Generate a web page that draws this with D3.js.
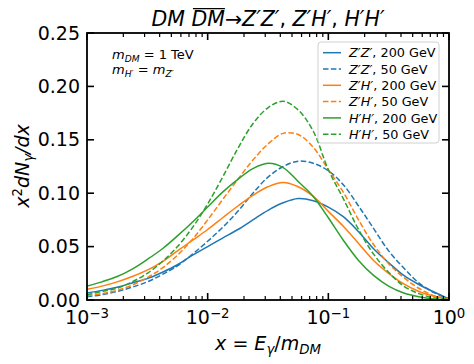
<!DOCTYPE html>
<html><head><meta charset="utf-8">
<script src="https://cdn.jsdelivr.net/npm/d3@7"></script>
<style>body{margin:0;background:#fff} svg{display:block} text{font-family:"DejaVu Sans",sans-serif;fill:#000}</style>
</head><body><svg id="c" width="474" height="364"></svg>
<script>
const xValues = [0.001, 0.00133, 0.00178, 0.00237, 0.00316, 0.00422, 0.00562, 0.0075, 0.01, 0.0133, 0.0178, 0.0237, 0.0316, 0.0422, 0.0562, 0.075, 0.1, 0.133, 0.178, 0.237, 0.316, 0.422, 0.562, 0.75, 1.0];
const zz200 = [0.0065,0.009,0.012,0.016,0.020,0.026,0.033,0.042,0.050,0.058,0.066,0.075,0.084,0.091,0.095,0.093,0.087,0.078,0.064,0.048,0.035,0.023,0.0145,0.0075,0.001];
const zz50  = [0.003,0.005,0.008,0.012,0.017,0.024,0.032,0.043,0.055,0.068,0.083,0.100,0.115,0.125,0.130,0.128,0.121,0.108,0.088,0.067,0.046,0.030,0.016,0.007,0.001];
const zh200 = [0.010,0.013,0.017,0.022,0.028,0.036,0.046,0.056,0.066,0.077,0.088,0.098,0.106,0.110,0.106,0.097,0.083,0.069,0.053,0.037,0.025,0.015,0.008,0.0035,0.001];
const zh50  = [0.004,0.006,0.009,0.014,0.021,0.030,0.042,0.057,0.075,0.094,0.113,0.131,0.146,0.156,0.155,0.143,0.122,0.101,0.075,0.052,0.034,0.021,0.011,0.004,0.001];
const hh200 = [0.013,0.017,0.022,0.029,0.038,0.048,0.060,0.073,0.087,0.101,0.113,0.123,0.128,0.124,0.111,0.097,0.077,0.056,0.037,0.023,0.013,0.0065,0.003,0.001,0.0003];
const hh50  = [0.005,0.008,0.011,0.017,0.025,0.036,0.050,0.068,0.090,0.115,0.142,0.165,0.180,0.186,0.178,0.158,0.122,0.095,0.066,0.043,0.026,0.013,0.006,0.002,0.0005];
const seriesNames = ["Z′Z′", "Z′Z′", "Z′H′", "Z′H′", "H′H′", "H′H′"];
const seriesMass = [", 200 GeV", ", 50 GeV", ", 200 GeV", ", 50 GeV", ", 200 GeV", ", 50 GeV"];
const seriesColors = ["#1f77b4","#1f77b4","#ff7f0e","#ff7f0e","#2ca02c","#2ca02c"];
const seriesDashed = [false,true,false,true,false,true];
const seriesValues = [zz200, zz50, zh200, zh50, hh200, hh50];
const xMajorTicks = [0.001, 0.01, 0.1, 1];
const xTickExp = ["−3","−2","−1","0"];
const yTicks = [0, 0.05, 0.10, 0.15, 0.20, 0.25];
const yTickLabels = ["0.00","0.05","0.10","0.15","0.20","0.25"];

const svg = d3.select("#c");
const L=87, R=449, T=33, B=300;
const x = d3.scaleLog().domain([1e-3,1]).range([L,R]);
const y = d3.scaleLinear().domain([0,0.25]).range([B,T]);

function rich(sel, parts, base, supK){
  let cur = 0;
  parts.forEach(p=>{
    const t = sel.append("tspan").text(p.t);
    let target = 0, fs = base;
    if (p.sub){ target = base*0.22; fs = base*0.7; }
    if (p.sup){ target = -base*(supK||0.38); fs = base*0.7; }
    t.attr("font-size", fs);
    if (p.i) t.attr("font-style","italic");
    if (target !== cur){ t.attr("dy", target-cur); cur = target; }
  });
}

// lines
svg.append("clipPath").attr("id","cp").append("rect").attr("x",L).attr("y",T).attr("width",R-L).attr("height",B-T);
const gLines = svg.append("g").attr("clip-path","url(#cp)");
const line = d3.line().x((d,i)=>x(xValues[i])).y(d=>y(d)).curve(d3.curveCatmullRom.alpha(0.5));
seriesValues.forEach((vals,k)=>{
  gLines.append("path").attr("d", line(vals)).attr("fill","none")
    .attr("stroke", seriesColors[k]).attr("stroke-width",1.5)
    .attr("stroke-dasharray", seriesDashed[k] ? "5.5,2.4" : null);
});

// frame
svg.append("rect").attr("x",L).attr("y",T).attr("width",R-L).attr("height",B-T)
  .attr("fill","none").attr("stroke","#000").attr("stroke-width",1.8);

// ticks
const minor = [];
[0.001,0.01,0.1].forEach(d=>{ for(let m=2;m<10;m++) minor.push(d*m); });
const tg = svg.append("g").attr("stroke","#000");
xMajorTicks.forEach(v=>{
  tg.append("line").attr("x1",x(v)).attr("x2",x(v)).attr("y1",B).attr("y2",B-7).attr("stroke-width",1.6);
  tg.append("line").attr("x1",x(v)).attr("x2",x(v)).attr("y1",T).attr("y2",T+7).attr("stroke-width",1.6);
});
minor.forEach(v=>{
  tg.append("line").attr("x1",x(v)).attr("x2",x(v)).attr("y1",B).attr("y2",B-4).attr("stroke-width",1.2);
  tg.append("line").attr("x1",x(v)).attr("x2",x(v)).attr("y1",T).attr("y2",T+4).attr("stroke-width",1.2);
});
yTicks.forEach(v=>{
  tg.append("line").attr("x1",L).attr("x2",L+7).attr("y1",y(v)).attr("y2",y(v)).attr("stroke-width",1.6);
  tg.append("line").attr("x1",R).attr("x2",R-7).attr("y1",y(v)).attr("y2",y(v)).attr("stroke-width",1.6);
});
// tick labels
xMajorTicks.forEach((v,i)=>{
  const t = svg.append("text").attr("x",x(v)).attr("y",324).attr("text-anchor","middle");
  rich(t,[{t:"10"},{t:xTickExp[i],sup:true}],19,0.33);
});
yTicks.forEach((v,i)=>{
  svg.append("text").attr("x",80).attr("y",y(v)+6.5).attr("text-anchor","end").attr("font-size",19).text(yTickLabels[i]);
});

// axis labels
const xl = svg.append("text").attr("x",268).attr("y",350).attr("text-anchor","middle");
rich(xl,[{t:"x",i:true},{t:" = "},{t:"E",i:true},{t:"γ",i:true,sub:true},{t:"/"},{t:"m",i:true},{t:"DM",i:true,sub:true}],19);
const yl = svg.append("text").attr("transform","translate(29,166) rotate(-90)").attr("text-anchor","middle");
rich(yl,[{t:"x",i:true},{t:"2",sup:true},{t:"dN",i:true},{t:"γ",i:true,sub:true},{t:"/dx",i:true}],19);

// title
const TS = 20.5;
const title = svg.append("text").attr("x",268).attr("y",26).attr("text-anchor","middle").attr("font-size",TS);
rich(title,[{t:"DM DM",i:true},{t:"→"},{t:"Z′Z′",i:true},{t:", "},{t:"Z′H′",i:true},{t:", "},{t:"H′H′",i:true}],TS);
(function(){
  const n = title.node();
  const s = n.getStartPositionOfChar(3), e = n.getEndPositionOfChar(4);
  svg.append("line").attr("x1",s.x+1.5).attr("x2",e.x).attr("y1",26-TS*0.85).attr("y2",26-TS*0.85).attr("stroke","#000").attr("stroke-width",1.2);
})();

// annotation
const a1 = svg.append("text").attr("x",112).attr("y",59);
rich(a1,[{t:"m",i:true},{t:"DM",i:true,sub:true},{t:" = 1 TeV"}],13);
const a2 = svg.append("text").attr("x",112).attr("y",74);
rich(a2,[{t:"m",i:true},{t:"H′",i:true,sub:true},{t:" = "},{t:"m",i:true},{t:"Z′",i:true,sub:true}],13);

// legend
const lg = svg.append("g");
lg.append("rect").attr("x",318).attr("y",42).attr("width",121).attr("height",101).attr("rx",3)
  .attr("fill","#fff").attr("fill-opacity",0.8).attr("stroke","#d0d0d0").attr("stroke-width",1);
seriesNames.forEach((nm,k)=>{
  const cy = 52.7 + k*16.3;
  lg.append("line").attr("x1",323).attr("x2",341).attr("y1",cy).attr("y2",cy)
    .attr("stroke",seriesColors[k]).attr("stroke-width",1.5)
    .attr("stroke-dasharray", seriesDashed[k] ? "5.5,2.4" : null);
  const t = lg.append("text").attr("x",349).attr("y",cy+4.6);
  rich(t,[{t:nm,i:true},{t:seriesMass[k]}],12.8);
});
</script></body></html>
